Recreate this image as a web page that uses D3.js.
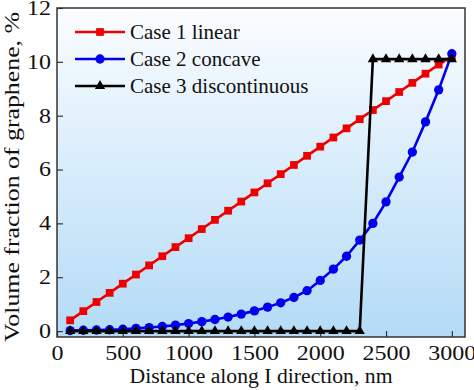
<!DOCTYPE html>
<html><head><meta charset="utf-8">
<script src="https://cdn.jsdelivr.net/npm/d3@7/dist/d3.min.js"></script>
<style>body{margin:0;background:#fff}svg{display:block}svg text{font-family:'Liberation Serif','DejaVu Serif',serif !important;fill:#111}</style>
</head><body><div id="c"></div>
<script>
const xValues = [100,200,300,400,500,600,700,800,900,1000,1100,1200,1300,1400,1500,1600,1700,1800,1900,2000,2100,2200,2300,2400,2500,2600,2700,2800,2900,3000];
const case1 = [0.40,0.74,1.08,1.42,1.76,2.10,2.44,2.78,3.12,3.45,3.79,4.13,4.47,4.81,5.15,5.49,5.83,6.17,6.51,6.85,7.19,7.53,7.87,8.21,8.54,8.88,9.22,9.56,9.90,10.2];
const case2 = [0.02,0.03,0.04,0.05,0.07,0.10,0.13,0.17,0.22,0.28,0.35,0.43,0.52,0.63,0.75,0.89,1.05,1.25,1.50,1.88,2.30,2.78,3.38,4.00,4.80,5.72,6.65,7.77,8.96,10.3];
const case3 = [0,0,0,0,0,0,0,0,0,0,0,0,0,0,0,0,0,0,0,0,0,0,0,10.1,10.1,10.1,10.1,10.1,10.1,10.1];
const seriesNames = ["Case 1 linear","Case 2 concave","Case 3 discontinuous"];
const xTicks = [0,500,1000,1500,2000,2500,3000];
const yTicks = [0,2,4,6,8,10,12];
const xTitle = "Distance along I direction, nm";
const yTitle = "Volume fraction of graphene, %";

const W=474,H=390, L=57,R=465,T=8,B=337;
const FF="'Liberation Serif','DejaVu Serif',serif";
const svg=d3.select("#c").append("svg").attr("width",W).attr("height",H).attr("font-family",FF);
const x=d3.scaleLinear().domain([0,3100]).range([L,R]);
const y=d3.scaleLinear().domain([-0.22,12]).range([B,T]);

const defs=svg.append("defs");
const g=defs.append("linearGradient").attr("id","bg").attr("x1",0).attr("y1",0).attr("x2",0).attr("y2",1);
g.append("stop").attr("offset","0%").attr("stop-color","#fbfdff");
g.append("stop").attr("offset","100%").attr("stop-color","#b3dbf6");
svg.append("rect").attr("x",L).attr("y",T).attr("width",R-L).attr("height",B-T).attr("fill","url(#bg)");

const fmt=d3.format("d");
const xa=svg.append("g").attr("transform",`translate(0,${B})`).call(d3.axisBottom(x).tickValues(xTicks).tickFormat(fmt).tickSizeInner(-6).tickSizeOuter(0).tickPadding(10));
const ya=svg.append("g").attr("transform",`translate(${L},0)`).call(d3.axisLeft(y).tickValues(yTicks).tickFormat(fmt).tickSizeInner(-6).tickSizeOuter(0).tickPadding(6));
[xa,ya].forEach(a=>{a.attr("font-family",FF);a.select(".domain").remove();a.selectAll("line").attr("stroke","#333").attr("stroke-width",1.2);
  a.selectAll("text").attr("font-size",20).attr("fill","#111").attr("textLength",d=>fmt(d).length*12).attr("lengthAdjust","spacingAndGlyphs");});
xa.selectAll("text").attr("dy",null).attr("y",23);
svg.append("rect").attr("x",L).attr("y",T).attr("width",R-L).attr("height",B-T).attr("fill","none").attr("stroke","#333").attr("stroke-width",1.5);

const series=[{name:seriesNames[0],v:case1,c:"#ee0000",m:"sq"},{name:seriesNames[1],v:case2,c:"#0000ee",m:"ci"},{name:seriesNames[2],v:case3,c:"#000000",m:"tr"}];
const line=d3.line().x(d=>x(d[0])).y(d=>y(d[1]));
function marker(sel,m,c){
  if(m==="sq") sel.append("path").attr("d",d3.symbol(d3.symbolSquare,60)()).attr("fill",c);
  else if(m==="ci") sel.append("path").attr("d",d3.symbol(d3.symbolCircle,68)()).attr("fill",c);
  else sel.append("path").attr("d",d3.symbol(d3.symbolTriangle,46)()).attr("fill",c);
}
const plot=svg.append("g");
series.forEach(s=>{
  const pts=xValues.map((xv,i)=>[xv,s.v[i]]);
  plot.append("path").attr("d",line(pts)).attr("fill","none").attr("stroke",s.c).attr("stroke-width",2.6);
  pts.forEach(p=>{const gg=plot.append("g").attr("transform",`translate(${x(p[0])},${y(p[1])})`);marker(gg,s.m,s.c);});
});

series.forEach((s,i)=>{
  const yy=32+i*27;
  svg.append("line").attr("x1",75).attr("x2",125).attr("y1",yy).attr("y2",yy).attr("stroke",s.c).attr("stroke-width",2.6);
  const gg=svg.append("g").attr("transform",`translate(100,${yy})`);marker(gg,s.m,s.c);
  svg.append("text").attr("x",130).attr("y",yy+7).attr("font-size",21).text(s.name);
});

svg.append("text").attr("x",261).attr("y",383).attr("text-anchor","middle").attr("font-size",20)
  .attr("textLength",263).attr("lengthAdjust","spacingAndGlyphs").text(xTitle);
svg.append("text").attr("transform",`translate(19,177) rotate(-90)`).attr("text-anchor","middle").attr("font-size",20)
  .attr("textLength",330).attr("lengthAdjust","spacingAndGlyphs").text(yTitle);
</script></body></html>
